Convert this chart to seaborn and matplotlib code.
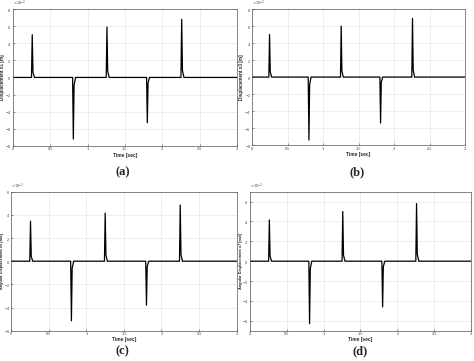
import matplotlib
matplotlib.use("Agg")
import matplotlib.pyplot as plt
from matplotlib.ticker import ScalarFormatter, FormatStrFormatter
import numpy as np
import seaborn as sns

# time [sec] and response values (x 1e-3)
t_a = [0, 0.25, 0.26, 0.27, 0.29, 0.80, 0.81, 0.82, 0.84, 1.25, 1.26, 1.27, 1.29,
       1.79, 1.80, 1.81, 1.83, 2.25, 2.26, 2.27, 2.29, 3.0]
y_a = [0, 0, 5.0, 0.6, 0, 0, -7.2, -0.9, 0, 0, 5.9, 0.7, 0,
       0, -5.3, -0.6, 0, 0, 6.8, 0.8, 0, 0]

t_b = [0, 0.235, 0.245, 0.255, 0.275, 0.79, 0.80, 0.81, 0.83, 1.245, 1.255, 1.265, 1.285,
       1.80, 1.81, 1.82, 1.84, 2.25, 2.26, 2.27, 2.29, 3.0]
y_b = [0, 0, 5.0, 0.6, 0, 0, -7.4, -0.9, 0, 0, 6.0, 0.7, 0,
       0, -5.4, -0.6, 0, 0, 6.9, 0.8, 0, 0]

t_c = [0, 0.245, 0.255, 0.265, 0.285, 0.79, 0.80, 0.81, 0.83, 1.24, 1.25, 1.26, 1.28,
       1.79, 1.80, 1.81, 1.83, 2.24, 2.25, 2.26, 2.28, 3.0]
y_c = [0, 0, 3.45, 0.4, 0, 0, -5.15, -0.6, 0, 0, 4.15, 0.5, 0,
       0, -3.8, -0.45, 0, 0, 4.85, 0.55, 0, 0]

t_d = [0, 0.255, 0.265, 0.275, 0.295, 0.80, 0.81, 0.82, 0.84, 1.25, 1.26, 1.27, 1.29,
       1.79, 1.80, 1.81, 1.83, 2.25, 2.26, 2.27, 2.29, 3.0]
y_d = [0, 0, 4.15, 0.5, 0, 0, -6.3, -0.75, 0, 0, 5.0, 0.6, 0,
       0, -4.6, -0.55, 0, 0, 5.8, 0.7, 0, 0]

ylabels = ["Displacement x1 [m]", "Displacement x3 [m]",
           "Angular Displacement x5 [rad]", "Angular Displacement x7 [rad]"]
captions = ["(a)", "(b)", "(c)", "(d)"]
ylims = [8, 8, 6, 7]

sns.set_theme(style="whitegrid")
plt.rcParams["font.family"] = ["Liberation Sans", "DejaVu Sans"]

fig = plt.figure(figsize=(4.74, 3.61), dpi=100)
boxes = [[0.027, 0.596, 0.473, 0.379],
         [0.532, 0.598, 0.449, 0.377],
         [0.024, 0.084, 0.475, 0.385],
         [0.527, 0.084, 0.467, 0.385]]
label_x = [-0.036, -0.037, -0.031, -0.031]
cap_pos = [(0.26, 0.522), (0.753, 0.522), (0.258, 0.026), (0.759, 0.026)]

series = [(t_a, y_a), (t_b, y_b), (t_c, y_c), (t_d, y_d)]
for i, (t, y) in enumerate(series):
    ax = fig.add_axes(boxes[i])
    sns.lineplot(x=t, y=np.array(y) * 1e-3, ax=ax, color="black", lw=0.9,
                 sort=False, estimator=None)
    ax.set_xlim(0, 3)
    ax.set_ylim(-ylims[i] * 1e-3, ylims[i] * 1e-3)
    ax.set_xticks([0, 0.5, 1, 1.5, 2, 2.5, 3])
    yt = np.arange(-8, 9, 2)
    ax.set_yticks(yt[np.abs(yt) <= ylims[i]] * 1e-3)
    ax.xaxis.set_major_formatter(FormatStrFormatter("%g"))
    fmt = ScalarFormatter(useMathText=True)
    fmt.set_powerlimits((-3, -3))
    ax.yaxis.set_major_formatter(fmt)
    ax.yaxis.get_offset_text().set_visible(False)
    ax.text(0.0, 1.004, r"$\times10^{-3}$", transform=ax.transAxes, fontsize=2.6,
            color="#444444", ha="left", va="bottom")
    ax.tick_params(direction="in", length=1.5, width=0.4, labelsize=2.8,
                   pad=1.0, colors="#444444", left=True, bottom=True)
    ax.grid(True, color="#e2e2e2", lw=0.4)
    for s in ax.spines.values():
        s.set_color("#555555")
        s.set_linewidth(0.5)
    ax.set_xlabel("Time [sec]", fontsize=3.5, fontweight="bold", labelpad=1)
    ax.set_ylabel(ylabels[i], fontsize=2.8 if i >= 2 else 3.3, fontweight="bold")
    ax.yaxis.set_label_coords(label_x[i], 0.5)
    fig.text(cap_pos[i][0], cap_pos[i][1], captions[i], ha="center", va="center",
             fontsize=9, fontweight="bold", family="Liberation Serif")

fig.savefig("out.png", dpi=100)
